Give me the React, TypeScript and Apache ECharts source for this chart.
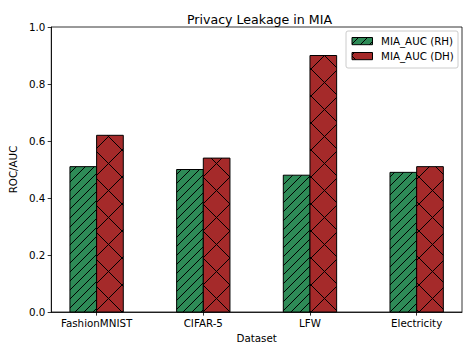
import React, { useEffect, useRef } from "react";
import * as echarts from "echarts";

const categories = ["FashionMNIST", "CIFAR-5", "LFW", "Electricity"];
const seriesNames = ["MIA_AUC (RH)", "MIA_AUC (DH)"];
const rhValues = [0.51, 0.5, 0.48, 0.49];
const dhValues = [0.62, 0.54, 0.9, 0.51];
const yTicks = [0, 0.2, 0.4, 0.6, 0.8, 1.0];

const COLORS = ["#2E8B57", "#A52A2A"];
const FONT = "DejaVu Sans";

const S_RH = 9;
const S_DH = 27;

// hatch line generator for a pixel rect; kind 0 = "///", kind 1 = "x"
function hatchLines(x0: number, y0: number, x1: number, y1: number, kind: number) {
  const out: any[] = [];
  const style = { stroke: "#000", lineWidth: 1 };
  const addNE = (s: number, ph: number) => {
    const cStart = Math.ceil((x0 + y0 - ph) / s) * s + ph;
    for (let c = cStart; c <= x1 + y1; c += s) {
      const xa = Math.max(x0, c - y1);
      const xb = Math.min(x1, c - y0);
      if (xb > xa) out.push({ type: "line", shape: { x1: xa, y1: c - xa, x2: xb, y2: c - xb }, style, silent: true });
    }
  };
  const addSE = (s: number, ph: number) => {
    const cStart = Math.ceil((x0 - y1 - ph) / s) * s + ph;
    for (let c = cStart; c <= x1 - y0; c += s) {
      const xa = Math.max(x0, c + y0);
      const xb = Math.min(x1, c + y1);
      if (xb > xa) out.push({ type: "line", shape: { x1: xa, y1: xa - c, x2: xb, y2: xb - c }, style, silent: true });
    }
  };
  if (kind === 0) {
    addNE(S_RH, 0);
  } else {
    addNE(S_DH, 2);
    addSE(S_DH, 26);
  }
  return out;
}

const HALF = 0.125;

function makeRenderItem(seriesIdx: number) {
  return (params: any, api: any) => {
    const xv = api.value(0);
    const yv = api.value(1);
    const left = seriesIdx === 0 ? xv - 2 * HALF : xv;
    const right = seriesIdx === 0 ? xv : xv + 2 * HALF;
    const p0 = api.coord([left, yv]);
    const p1 = api.coord([right, 0]);
    const x0 = p0[0], y0 = p0[1], x1 = p1[0], y1 = p1[1];
    return {
      type: "group",
      children: [
        { type: "rect", shape: { x: x0, y: y0, width: x1 - x0, height: y1 - y0 }, style: { fill: COLORS[seriesIdx] } },
        ...hatchLines(x0, y0, x1, y1, seriesIdx),
        { type: "rect", shape: { x: x0, y: y0, width: x1 - x0, height: y1 - y0 }, style: { fill: "none", stroke: "#000", lineWidth: 1 } },
      ],
    };
  };
}

function legendGraphic() {
  const bx = 346, by = 31, bw = 112, bh = 37;
  const children: any[] = [
    { type: "rect", shape: { x: bx, y: by, width: bw, height: bh, r: 2 }, style: { fill: "rgba(255,255,255,0.8)", stroke: "#cccccc", lineWidth: 1 } },
  ];
  seriesNames.forEach((name, i) => {
    const ix = 352, iy = 37.5 + i * 15, iw = 20.5, ih = 7.2;
    children.push({ type: "rect", shape: { x: ix, y: iy, width: iw, height: ih }, style: { fill: COLORS[i] } });
    children.push(...hatchLines(ix, iy, ix + iw, iy + ih, i));
    children.push({ type: "rect", shape: { x: ix, y: iy, width: iw, height: ih }, style: { fill: "none", stroke: "#000", lineWidth: 1 } });
    children.push({
      type: "text",
      style: { x: 381, y: iy + ih / 2, text: name, fill: "#000", font: `10.3px "${FONT}"`, verticalAlign: "middle" },
    });
  });
  return { type: "group", children };
}

export default function App() {
  const ref = useRef<HTMLDivElement>(null);
  useEffect(() => {
    if (!ref.current) return;
    const chart = echarts.init(ref.current, null, { renderer: "svg" });
    const tickIdx = categories.map((_, i) => i);
    chart.setOption({
      animation: false,
      backgroundColor: "#fff",
      textStyle: { fontFamily: FONT },
      title: {
        text: "Privacy Leakage in MIA",
        left: 254.5,
        top: 8,
        textAlign: "center",
        textStyle: { fontFamily: FONT, fontSize: 12.6, fontWeight: "normal", color: "#000" },
      },
      grid: { left: 47, right: 12, top: 27, bottom: 43, show: true, borderColor: "#000", borderWidth: 0.8, backgroundColor: "transparent" },
      xAxis: {
        type: "value",
        min: -0.425,
        max: 3.425,
        name: "Dataset",
        nameLocation: "middle",
        nameGap: 20,
        nameTextStyle: { fontFamily: FONT, fontSize: 10.3, color: "#000" },
        axisLine: { show: true, onZero: false, lineStyle: { color: "#000", width: 0.8 } },
        axisTick: { show: true, length: 3.6, lineStyle: { color: "#000", width: 0.8 }, customValues: tickIdx },
        axisLabel: {
          customValues: tickIdx,
          formatter: (v: number) => categories[Math.round(v)] ?? "",
          fontFamily: FONT,
          fontSize: 10.3,
          color: "#000",
          margin: 6,
        },
        splitLine: { show: false },
      },
      yAxis: {
        type: "value",
        min: 0,
        max: 1,
        interval: 0.2,
        name: "ROC/AUC",
        nameLocation: "middle",
        nameGap: 24,
        nameRotate: 90,
        nameTextStyle: { fontFamily: FONT, fontSize: 10.3, color: "#000" },
        axisLine: { show: true, onZero: false, lineStyle: { color: "#000", width: 0.8 } },
        axisTick: { show: true, length: 3.6, lineStyle: { color: "#000", width: 0.8 } },
        axisLabel: {
          formatter: (v: number) => (yTicks.some((t) => Math.abs(t - v) < 1e-9) ? v.toFixed(1) : ""),
          fontFamily: FONT,
          fontSize: 10.3,
          color: "#000",
          margin: 6,
        },
        splitLine: { show: false },
      },
      series: [
        {
          name: seriesNames[0],
          type: "custom",
          renderItem: makeRenderItem(0),
          data: rhValues.map((v, i) => [i, v]),
          encode: { x: 0, y: 1 },
          clip: false,
        },
        {
          name: seriesNames[1],
          type: "custom",
          renderItem: makeRenderItem(1),
          data: dhValues.map((v, i) => [i, v]),
          encode: { x: 0, y: 1 },
          clip: false,
        },
      ],
      graphic: [legendGraphic()],
    });
    return () => chart.dispose();
  }, []);
  return <div ref={ref} style={{ width: 474, height: 355, margin: -8 }} />;
}
